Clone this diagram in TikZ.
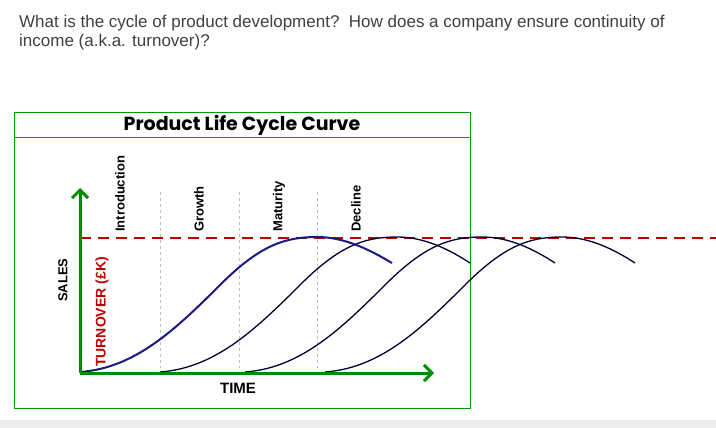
\documentclass[tikz,border=0pt]{standalone}
\usepackage{fontspec}
\usetikzlibrary{arrows.meta}
\setmainfont{Liberation Sans}
\newfontfamily\titlefont{Poppins}
\begin{document}
\begin{tikzpicture}[x=1pt,y=-1pt,
  lbl/.style={font=\bfseries\fontsize{13}{13}\selectfont,rotate=90,anchor=west,inner sep=0pt},
  guide/.style={gray!50,dashed,line width=0.8pt},
  life/.style={line width=1.3pt,color=black!80!blue},
  axis/.style={line width=3pt,color=green!55!black,-{Straight Barb[length=8pt,width=16pt,line width=3pt]}}]
\useasboundingbox (0,0) rectangle (716,428);
\fill[gray!15] (0,420) rectangle (716,428);
\node[anchor=north west,align=left,text=black!75,font=\fontsize{17}{19}\selectfont,inner sep=0pt] (q) at (19,15)
 {What is the cycle of product development?\ \ How does a company ensure continuity of\\income (a.k.a. turnover)?};
\draw[green!60!black,line width=0.9pt] (14,112) rectangle (470,408);
\draw[green!60!black,line width=0.9pt] (14,137) -- (470,137);
\node[font=\titlefont\bfseries\fontsize{19}{19}\selectfont] (title) at (242,125) {Product Life Cycle Curve};
\foreach \x in {160,239,317} \draw[guide] (\x,192) -- (\x,368);
\node[lbl] (intro) at (120,232) {Introduction};
\node[lbl] (growth) at (199,232) {Growth};
\node[lbl] (mat) at (279,232) {Maturity};
\node[lbl] (dec) at (356,232) {Decline};
\node[font=\bfseries\fontsize{13}{13}\selectfont,rotate=90] (sales) at (63,280) {SALES};
\node[font=\bfseries\fontsize{14}{14}\selectfont,rotate=90,text=red!75!black,anchor=west,inner sep=0pt] (turn) at (102,367) {TURNOVER (£K)};
\node[font=\bfseries\fontsize{15}{15}\selectfont] (time) at (238,388) {TIME};
\draw[red!75!black,dashed,dash pattern=on 11pt off 7pt,line width=2.4pt] (80,238) -- (716,238);
\foreach \s in {160,245,325}{
  \draw[life] (\s,372) .. controls (\s+55,368) and (\s+95,330) .. (\s+140,285)
     .. controls (\s+180,245) and (\s+205,237) .. (\s+237,237)
     .. controls (\s+265,237) and (\s+290,250) .. (\s+310,263);
}
\draw[line width=2pt,color=blue!45!black!90] (80,372) .. controls (135,368) and (175,330) .. (220,285)
     .. controls (260,245) and (285,237) .. (317,237)
     .. controls (345,237) and (370,250) .. (392,263);
\coordinate (o) at (80,373);
\coordinate (yt) at (80,188);
\coordinate (xt) at (434,373);
\draw[axis] (o) -- (yt);
\draw[axis] (o) -- (xt);
\end{tikzpicture}
\end{document}
